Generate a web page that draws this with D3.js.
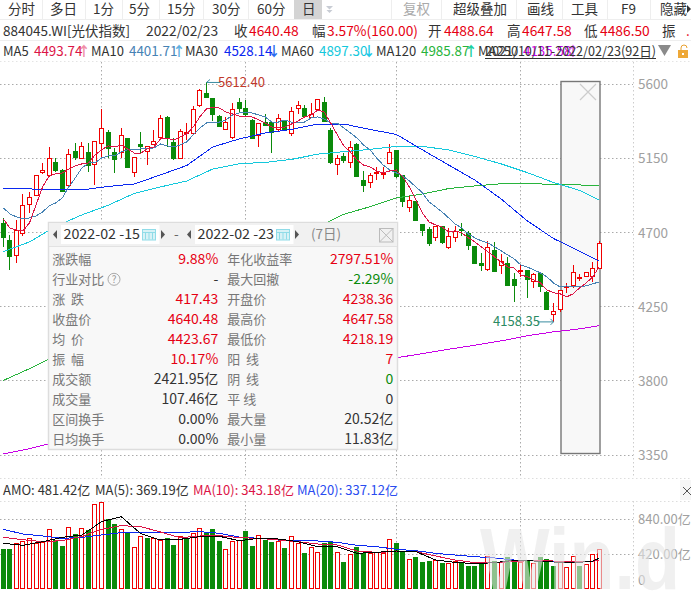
<!DOCTYPE html>
<html><head><meta charset="utf-8">
<script src="https://cdn.jsdelivr.net/npm/d3@7/dist/d3.min.js"></script>
<style>
html,body{margin:0;padding:0;background:#fff;overflow:hidden}
svg{display:block}
text{font-family:"Noto Sans CJK SC","Noto Sans",sans-serif;white-space:pre}
</style></head><body>
<svg id="chart" width="691" height="591"></svg>
<script>
// Daily candles for the PV index, oldest first: open, high, low, close
const opens=[4758,4656,4564,4697,4873,4928,5071,5046,5130,5081,4986,5196,5152,5190,5116,5243,5312,5190,5186,5275,5067,5240,5196,5235,5277,5403,5251,5152,5306,5304,5471,5548,5518,5409,5332,5277,5494,5457,5385,5294,5374,5374,5328,5383,5304,5453,5457,5407,5449,5492,5322,5119,5164,5131,5239,5020,5006,5057,5051,5128,5202,5049,4852,4893,4753,4721,4670,4741,4616,4676,4720,4699,4620,4515,4480,4596,4503,4517,4418,4464,4473,4412,4454,4341,4206,4238.36,4369,4379,4426,4434,4434,4488.64];
const highs=[4790,4687,4778,4935,4947,5052,5122,5219,5152,5084,5207,5243,5253,5243,5258,5449,5324,5213,5334,5278,5160,5314,5228,5324,5415,5406,5273,5330,5364,5469,5574,5612.40,5521,5412,5405,5488,5516,5506,5388,5367,5421,5377,5421,5386,5462,5502,5476,5486,5512,5522,5334,5172,5183,5257,5242,5075,5061,5097,5097,5239,5205,5051,4923,4895,4755,4737,4741,4743,4727,4741,4758,4713,4622,4576,4650,4642,4571,4551,4454,4505,4475,4458,4456,4343,4272,4353,4394,4505,4450,4462,4521,4647.58];
const lows=[4614,4474,4517,4682,4822,4925,5057,5041,5067,4952,4984,5142,5150,5071,4990,5152,5152,5065,5152,5099,5040,5183,5111,5232,5273,5222,5142,5150,5263,5302,5465,5524,5378,5348,5324,5272,5435,5405,5271,5222,5352,5186,5314,5326,5289,5421,5395,5398,5437,5372,5119,5051,5126,5091,5043,4949,4974,5020,5025,5122,5031,4858,4828,4772,4682,4620,4652,4632,4602,4646,4681,4596,4517,4468,4470,4468,4452,4383,4282,4434,4304,4363,4337,4232,4158.35,4218.19,4333,4363,4406,4432,4403,4486.50];
const closes=[4670,4559,4717,4869,4915,5049,5081,5152,5081,4955,5176,5158,5225,5111,5255,5334,5213,5150,5292,5101,5158,5230,5225,5255,5395,5273,5156,5316,5312,5449,5565,5526,5423,5350,5374,5449,5459,5423,5277,5364,5354,5314,5395,5328,5437,5474,5409,5423,5510,5374,5130,5156,5142,5222,5045,4990,5049,5066,5060,5192,5045,4889,4897,4778,4717,4634,4739,4644,4681,4713,4711,4628,4519,4505,4616,4470,4527,4385,4383,4473,4416,4452,4373,4240,4224,4351,4377,4460,4434,4460,4485,4640.48];

// Moving averages of the close; the slower ones are sampled every few sessions
const ma5=[4784,4729,4717,4711,4760,4869,4978,5045,5057,5063,5087,5105,5118,5124,5172,5203,5227,5221,5233,5209,5184,5184,5209,5221,5269,5275,5263,5281,5300,5342,5403,5451,5463,5457,5433,5421,5409,5403,5403,5385,5366,5342,5336,5342,5360,5379,5403,5415,5445,5433,5366,5294,5227,5190,5142,5111,5099,5075,5063,5075,5081,5039,4978,4899,4820,4766,4747,4735,4705,4711,4699,4669,4644,4614,4584,4553,4523,4492,4486,4444,4432,4414,4395,4353,4335,4329,4310,4329,4365,4395,4432,4493.74];
const ma10=[4851,4814,4796,4784,4790,4802,4826,4863,4881,4911,4978,5033,5093,5124,5124,5154,5166,5166,5190,5203,5203,5209,5209,5215,5239,5227,5221,5233,5251,5294,5336,5366,5372,5372,5385,5415,5427,5427,5427,5415,5403,5372,5372,5385,5372,5372,5372,5397,5403,5391,5366,5366,5336,5306,5275,5233,5203,5154,5111,5081,5063,5045,5014,4978,4942,4887,4857,4826,4790,4753,4729,4693,4669,4650,4638,4614,4590,4565,4541,4505,4492,4474,4456,4432,4395,4371,4377,4371,4371,4377,4389,4401.71];
const slowIdx=[0,4,8,12,16,20,24,28,32,36,40,44,48,52,56,60,64,68,72,76,80,84,88,91];
const ma30=[4966,4966,4960,4960,4981,4996,5051,5108,5221,5269,5306,5327,5360,5360,5327,5297,5203,5111,5020,4905,4772,4665,4587,4528.14];
const ma60=[4585,4644,4738,4808,4866,4939,4978,5014,5087,5119,5127,5145,5177,5192,5206,5224,5224,5203,5163,5118,5065,5005,4957,4897.30];
const ma120=[3803,3874,3952,4031,4110,4189,4268,4347,4426,4505,4584,4656,4735,4812,4858,4911,4935,4968,4984,4997,4999,4993,4990,4985.87];
const ma250=[3356,3388,3428,3467,3506,3546,3585,3625,3663,3704,3741,3781,3819,3858,3898,3940,3966,3992,4017,4043,4074,4098,4116,4135.58];

// Turnover in 亿 per session, and whether each bar is hollow red
const amount=[480,480,556,580,608,556,568,716,588,516,740,660,732,708,1016,1040,840,776,716,680,500,632,616,608,588,616,528,632,608,668,728,688,720,576,480,576,584,696,516,644,588,568,580,492,632,556,432,504,440,552,564,440,324,416,504,436,428,448,428,596,552,452,360,384,328,336,352,312,308,336,320,276,280,296,392,336,328,384,340,328,336,308,384,356,276,324,260,392,276,296,416,481.42];
const amountUp=[0,0,1,1,1,1,1,1,0,0,1,0,1,0,1,1,0,0,1,0,1,1,0,1,1,0,0,1,0,1,1,0,0,0,1,1,1,0,0,1,0,0,1,0,1,1,0,1,1,0,0,1,0,1,0,0,1,1,1,1,0,0,1,0,0,0,1,0,1,1,0,0,0,0,1,0,1,0,0,1,0,1,0,0,0,1,1,1,0,1,1,1];
const amoIdx=[0,3,6,9,12,15,18,21,24,27,30,33,36,39,42,45,48,51,54,57,60,63,66,69,72,75,78,81,84,87,90,91];
const amoMa5=[548,524,568,620,648,808,868,664,588,596,628,632,580,608,600,568,508,508,428,440,456,448,348,320,304,316,344,336,324,312,336,369.19];
const amoMa10=[620,592,568,580,632,716,760,748,684,616,636,640,616,608,588,568,540,528,456,440,448,448,396,348,316,312,332,340,336,324,332,343.18];
const amoMa20=[716,660,636,608,620,648,676,680,680,680,688,668,624,608,588,588,576,560,524,508,476,460,428,408,388,372,348,336,332,328,336,337.12];

const priceTicks=[5600,5150,4700,4250,3800,3350];
const amountTicks=[840,420,0];
const monthStarts=[15,37,60,79];
const rangeStart=85, rangeEnd=91;
const peakIdx=31, troughIdx=84;

// Toolbar, header and legend wording
const tabs=["分时","多日","1分","5分","15分","30分","60分","日"];
const tools=["复权","超级叠加","画线","工具","F9","隐藏"];
const maLegend=[["MA5","4493.74","↑"],["MA10","4401.71","↑"],["MA30","4528.14","↓"],["MA60","4897.30","↓"],["MA120","4985.87","↑"],["MA250","4135.58","↑"]];
const quote=[["收","4640.48"],["幅","3.57%(160.00)"],["开","4488.64"],["高","4647.58"],["低","4486.50"]];
const statLeft=[["涨跌幅","9.88%"],["行业对比","-"],["涨  跌","417.43"],["收盘价","4640.48"],["均  价","4423.67"],["振  幅","10.17%"],["成交额","2421.95亿"],["成交量","107.46亿"],["区间换手","0.00%"],["日均换手","0.00%"]];
const statRight=[["年化收益率","2797.51%"],["最大回撤","-2.29%"],["开盘价","4238.36"],["最高价","4647.58"],["最低价","4218.19"],["阳  线","7"],["阴  线","0"],["平 线","0"],["最大量","20.52亿"],["最小量","11.83亿"]];

const RED="#f00000", GREEN="#0a8a0a", TXT="#333", VALUE="#e60012", GRID="#aaa", TICK="#a0a0a0";
const C5="#dc1446", C10="#4682b4", C30="#0a28f0", C60="#14c8dc", C120="#28b43c", C250="#c800e6";

const svg=d3.select("#chart");
const x=d3.scaleLinear().domain([0,91]).range([3.3,599.3]);
const y=d3.scaleLinear().domain([3350,5600]).range([455,84.5]);
const yv=d3.scaleLinear().domain([0,840]).range([589,519]);
const px=v=>Math.floor(v)+.5;

function label(g,tx,ty,s,o={}){
  return g.append("text").attr("x",tx).attr("y",ty).attr("dy",".35em").text(s)
    .attr("font-size",o.size||13.5).attr("fill",o.fill||TXT)
    .attr("text-anchor",o.anchor||"start");
}

/* ---------- grids and axes ---------- */
const grid=svg.append("g");
const hGrid=(vals,scale)=>grid.append("g").selectAll("line").data(vals).join("line")
  .attr("x1",0).attr("x2",633).attr("y1",d=>px(scale(d))).attr("y2",d=>px(scale(d)))
  .attr("stroke",GRID).attr("stroke-dasharray","1.5,2.5");
hGrid(priceTicks,y);
hGrid(amountTicks.slice(0,2),yv);
[[62,478],[501,589]].forEach(([a,b])=>grid.append("g").selectAll("line").data(monthStarts).join("line")
  .attr("x1",d=>px(x(d))).attr("x2",d=>px(x(d))).attr("y1",a).attr("y2",b)
  .attr("stroke",GRID).attr("stroke-dasharray","1.5,2.5"));
[[62,478],[501,589]].forEach(([a,b])=>grid.append("line").attr("x1",633.5).attr("x2",633.5).attr("y1",a).attr("y2",b)
  .attr("stroke","#ccc").attr("stroke-dasharray","1.5,2.5"));
[[0,19.5,"#eee"],[0,40.5,"#eee"],[0,61.5,"#e4e4e4"],[0,478.5,"#ddd"],[0,501.5,"#ddd"]].forEach(([a,b,c])=>
  grid.append("line").attr("x1",a).attr("x2",691).attr("y1",b).attr("y2",b).attr("stroke",c)
    .attr("stroke-dasharray",b>60?"1.5,2.5":null));

const priceAxis=svg.append("g").attr("transform","translate(638,0)")
  .call(d3.axisRight(y).tickValues(priceTicks).tickSize(0).tickPadding(0).tickFormat(d3.format("d")));
const amountAxis=svg.append("g").attr("transform","translate(638,0)")
  .call(d3.axisRight(yv).tickValues(amountTicks.slice(0,2)).tickSize(0).tickPadding(0).tickFormat(d=>d3.format(".2f")(d)+"亿"));
[priceAxis,amountAxis].forEach(a=>{a.select(".domain").remove();
  a.selectAll("text").attr("font-size",13.5).attr("fill",TICK);
  a.attr("font-family",null);});
amountAxis.selectAll("text").attr("font-size",13);
label(svg,638,580.5,String(amountTicks[2]),{fill:TICK});

/* ---------- selected range band ---------- */
const rx0=px(x(rangeStart))+.5, rx1=px(x(rangeEnd))+.5;
svg.append("rect").attr("x",rx0).attr("y",81.5).attr("width",rx1-rx0).attr("height",372)
  .attr("fill","#f8f8f8").attr("stroke","#777").attr("stroke-width",1.4);
svg.append("path").attr("d","M580,84L596,100M596,84L580,100").attr("stroke","#ccc").attr("stroke-width",1.2);
hGrid(priceTicks.filter(v=>y(v)>81&&y(v)<453),y).attr("x1",rx0).attr("x2",rx1);

/* ---------- candles ---------- */
const idx=d3.range(closes.length);
const isUp=i=>closes[i]>=opens[i];
const candles=svg.append("g").attr("shape-rendering","crispEdges");
candles.selectAll("line").data(idx).join("line")
  .attr("x1",i=>px(x(i))).attr("x2",i=>px(x(i)))
  .attr("y1",i=>y(highs[i])).attr("y2",i=>y(lows[i]))
  .attr("stroke",i=>isUp(i)?RED:GREEN);
candles.selectAll("rect").data(idx).join("rect")
  .attr("x",i=>px(x(i))-2).attr("width",4)
  .attr("y",i=>Math.round(y(Math.max(opens[i],closes[i])))+.5)
  .attr("height",i=>Math.max(1,Math.round(y(Math.min(opens[i],closes[i]))-y(Math.max(opens[i],closes[i])))))
  .attr("fill",i=>isUp(i)?"#fff":GREEN)
  .attr("stroke",i=>isUp(i)?RED:GREEN);

/* ---------- price moving averages ---------- */
const pl=(xs,vals,sc)=>d3.line().x((d,i)=>x(xs[i])).y(d=>sc(d))(vals);
[[slowIdx,ma250,C250],[slowIdx,ma120,C120],[slowIdx,ma60,C60],[slowIdx,ma30,C30],[idx,ma10,C10],[idx,ma5,C5]].forEach(([xs,vals,c])=>
  svg.append("path").attr("d",pl(xs,vals,y)).attr("fill","none").attr("stroke",c).attr("stroke-width",1).attr("shape-rendering","crispEdges"));

/* ---------- extreme markers ---------- */
const ann="#3a8ca0";
const hx=px(x(peakIdx)), hy=y(highs[peakIdx]);
svg.append("path").attr("d",`M${hx},${hy}L${hx+14},${hy}M${hx},${hy}L${hx+3.5},${hy-3}`).attr("fill","none").attr("stroke",ann);
label(svg,218,hy-.5,d3.format(".2f")(highs[peakIdx]),{fill:"#c0392b",size:13});
const lx=px(x(troughIdx)), ly=y(lows[troughIdx]);
svg.append("path").attr("d",`M${lx-16},${ly}L${lx},${ly}M${lx-3},${ly-3}L${lx},${ly}L${lx-3},${ly+3}`).attr("fill","none").attr("stroke",ann);
label(svg,493,ly,d3.format(".2f")(lows[troughIdx]),{fill:"#2b8a62",size:13});

/* ---------- turnover panel ---------- */
const bars=svg.append("g").attr("shape-rendering","crispEdges");
bars.selectAll("rect").data(idx).join("rect")
  .attr("x",i=>px(x(i))-2).attr("width",4)
  .attr("y",i=>Math.round(yv(amount[i]))+.5)
  .attr("height",i=>588.5-(Math.round(yv(amount[i]))+.5))
  .attr("fill",i=>amountUp[i]?"#fff":GREEN)
  .attr("stroke",i=>amountUp[i]?RED:GREEN);
[[amoMa20,"#0a28f0"],[amoMa10,C5],[amoMa5,"#000"]].forEach(([vals,c])=>
  svg.append("path").attr("d",pl(amoIdx,vals,yv)).attr("fill","none").attr("stroke",c).attr("stroke-width",1).attr("shape-rendering","crispEdges"));

// Faint brand mark over the lower right corner
svg.append("text").attr("x",480).attr("y",589).text("Win.d")
  .style("font-family","Liberation Sans").attr("font-weight",700).attr("font-size",88)
  .attr("textLength",200).attr("lengthAdjust","spacingAndGlyphs")
  .attr("fill","#e6e6e6").attr("fill-opacity",.6);

const amoY=490;
[["AMO: 481.42亿",3,TXT],["MA(5): 369.19亿",95,TXT],["MA(10): 343.18亿",193,C5],["MA(20): 337.12亿",297,"#2a4cf0"]].forEach(([s,tx,c])=>
  label(svg,tx,amoY,s,{fill:c,size:13}));
svg.append("rect").attr("x",680).attr("y",480).attr("width",11).attr("height",20).attr("fill","#f6f6f6");
svg.append("path").attr("d","M683,487L691,495M691,487L683,495").attr("stroke","#555").attr("stroke-width",1);

/* ---------- toolbar ---------- */
const head=svg.append("g");
const tabX=[8,50,93,129,167,212,257,302];
const tabSep=[42,85,122,159,203,248];
head.append("rect").attr("x",294).attr("y",0).attr("width",28).attr("height",19).attr("fill","#d4d4d4");
tabs.forEach((s,i)=>label(head,tabX[i],9.5,s,{size:13.5}));
tabSep.forEach(v=>head.append("line").attr("x1",v+.5).attr("x2",v+.5).attr("y1",0).attr("y2",19).attr("stroke","#eee"));
head.append("path").attr("d","M326,6h7l-3.5,3.5zM326.5,10h6l-3,3z").attr("fill","#c8ccd4");
const toolX=[403,453,527,571,621,660];
const toolSep=[391,441,516,562,607,650];
tools.forEach((s,i)=>label(head,toolX[i],9.5,s,{size:13.5,fill:i?TXT:"#aaa"}));
toolSep.forEach(v=>head.append("line").attr("x1",v+.5).attr("x2",v+.5).attr("y1",0).attr("y2",19).attr("stroke","#eee"));
head.append("path").attr("d","M687,5l4,4l-4,4z").attr("fill","#333");

// Quote line
label(head,3,31,"884045.WI[光伏指数]",{size:13.5});
label(head,146,31,"2022/02/23",{size:13.8});
const quoteX=[[234,249],[312,327],[428,444],[507,522],[584,600]];
quote.forEach(([k,v],i)=>{label(head,quoteX[i][0],31,k,{size:13.5});label(head,quoteX[i][1],31,v,{size:13.8,fill:VALUE});});
label(head,662,31,"振",{size:13.5});
label(head,686,31,".",{size:13.5,fill:VALUE});

// Moving-average legend
const legendX=[[3,34],[91,129],[185,224],[281,319],[376,421],[478,523]];
const legendColors=[C5,C10,C30,C60,C120,C250];
const arrowColors=["#f090a8","#60b0e0","#2a6cf0","#20c8e8","#20d0a0","#e060f0"];
maLegend.forEach(([k,v,a],i)=>{
  label(head,legendX[i][0],51,k,{size:13});
  const t=label(head,legendX[i][1],51,v,{size:13.4,fill:legendColors[i]});
  t.append("tspan").text(a).attr("fill",arrowColors[i]).attr("dx",-5).attr("font-weight",700);
});
label(head,485,51,"2021/10/11-2022/02/23(92日)",{size:13}).attr("textLength",171).attr("lengthAdjust","spacingAndGlyphs");
head.append("line").attr("x1",485).attr("x2",656).attr("y1",58.5).attr("y2",58.5).attr("stroke",TXT);
head.append("path").attr("d","M658,45h13l-6.5,11z").attr("fill","#8a8a8a");
head.append("path").attr("d","M681,50v-2a3,3 0 0 1 6,0").attr("fill","none").attr("stroke","#e8a030");
head.append("rect").attr("x",678).attr("y",50).attr("width",10).attr("height",8).attr("fill","#eea838");
head.append("rect").attr("x",682).attr("y",53).attr("width",2).attr("height",2).attr("fill","#fff");

/* ---------- range statistics popup ---------- */
const pop=svg.append("g");
pop.append("rect").attr("x",48.5).attr("y",222.5).attr("width",349).attr("height",227).attr("fill","#f8f8f8").attr("stroke","#ddd").attr("stroke-width",1.5);
pop.append("rect").attr("x",49).attr("y",223).attr("width",348).attr("height",23).attr("fill","#f1f1f1");
pop.append("line").attr("x1",49).attr("x2",397).attr("y1",246.5).attr("y2",246.5).attr("stroke","#e2e2e2");
const stepper=(bx,dir)=>pop.append("path").attr("d",dir<0?`M${bx+4},230l-4,4.5l4,4.5z`:`M${bx},230l4,4.5l-4,4.5z`).attr("fill","#555");
stepper(53,-1);stepper(161,1);stepper(187,-1);stepper(295,1);
[[61,"2022-02 -15"],[195,"2022-02 -23"]].forEach(([bx,s])=>{
  pop.append("rect").attr("x",bx).attr("y",225).attr("width",98.5).attr("height",19).attr("fill","#fff");
  label(pop,bx+2.5,234.5,s,{size:14}).attr("textLength",76.5).attr("lengthAdjust","spacingAndGlyphs");
  pop.append("rect").attr("x",bx+81.5).attr("y",229.5).attr("width",13).attr("height",10.5).attr("fill","#d8f2f6").attr("stroke","#90dce8");
  pop.append("path").attr("d",`M${bx+84.5},232.5v7M${bx+88},232.5v7M${bx+91.5},232.5v7M${bx+81.5},232.5h13`).attr("stroke","#90dce8").attr("fill","none");
});
label(pop,174,234.5,"-",{fill:"#666"});
label(pop,311,234.5,"(7日)",{fill:"#888"});
pop.append("rect").attr("x",379.5).attr("y",228.5).attr("width",13.5).attr("height",13.5).attr("fill","none").attr("stroke","#bbb");
pop.append("path").attr("d","M379.5,228.5L393,242M393,228.5L379.5,242").attr("stroke","#bbb");

const statColor=(s,k)=>{
  if(["成交额","成交量","区间换手","日均换手","最大量","最小量","平 线"].includes(k))return TXT;
  if(k==="最大回撤"||k==="阴  线")return GREEN;
  if(s==="-")return TXT;
  return VALUE;
};
statLeft.forEach(([k,v],i)=>{const ry=259.3+20*i;
  label(pop,52.3,ry,k,{fill:"#777",size:13});
  label(pop,218.3,ry,v,{anchor:"end",fill:statColor(v,k),size:14});});
statRight.forEach(([k,v],i)=>{const ry=259.3+20*i;
  label(pop,227.3,ry,k,{fill:"#777",size:13});
  label(pop,393.3,ry,v,{anchor:"end",fill:statColor(v,k),size:14});});
pop.append("circle").attr("cx",114).attr("cy",279.3).attr("r",6).attr("fill","none").attr("stroke","#aaa");
label(pop,114,279.3,"?",{size:10,anchor:"middle",fill:"#999"});
</script></body></html>
